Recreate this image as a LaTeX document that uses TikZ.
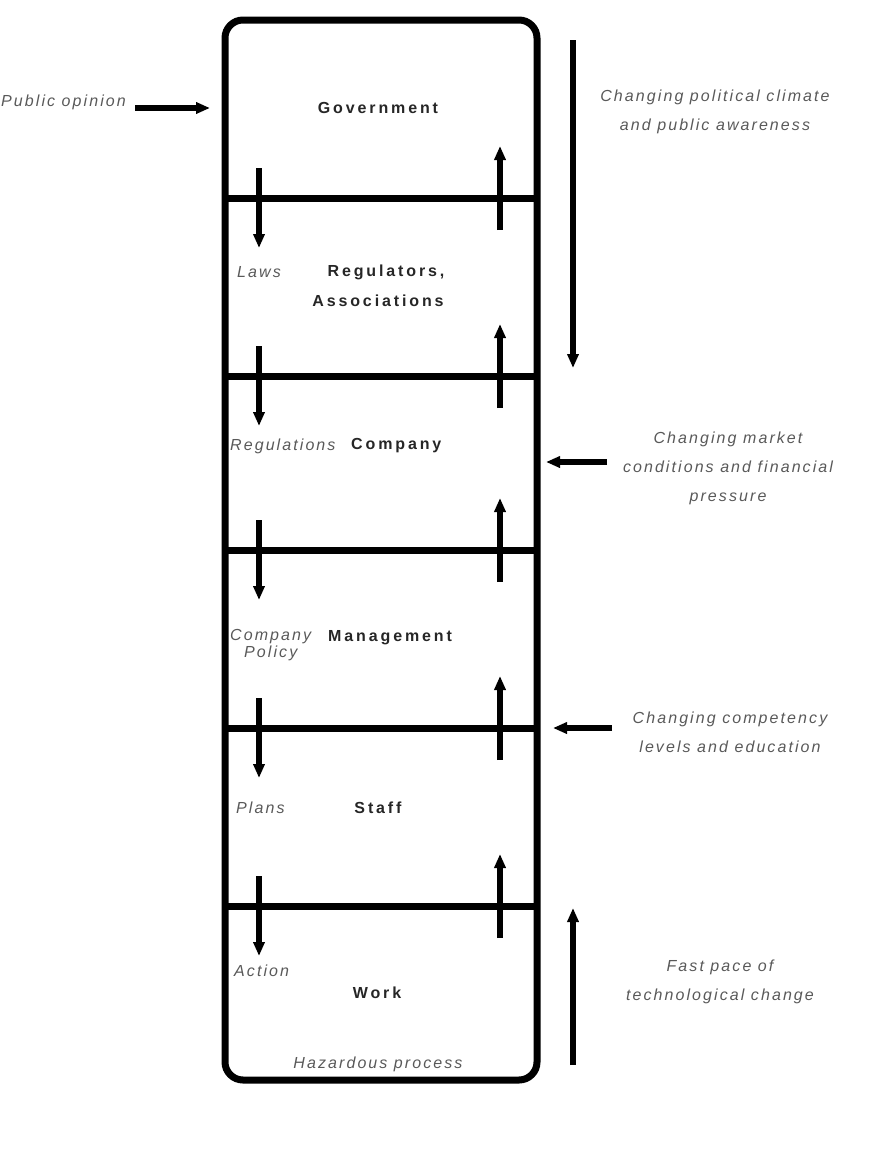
\documentclass[tikz,border=0pt]{standalone}
\usepackage{fontspec}
\setmainfont{Liberation Sans}
\newfontfamily\notefont{Liberation Sans}[LetterSpace=13]
\newfontfamily\lblfont{Liberation Sans}[LetterSpace=18]
\usetikzlibrary{arrows.meta}
\begin{document}
\begin{tikzpicture}[x=1pt,y=-1pt,
  frame/.style={line width=7pt},
  bar/.style={line width=7pt},
  arr/.style={line width=6pt,-{Triangle[length=14pt,width=11pt]}},
  lbl/.style={font=\lblfont\fontsize{16}{30}\selectfont\bfseries,align=center,text=black!85},
  note/.style={font=\notefont\fontsize{16}{29}\selectfont\itshape,align=center,text=black!65},
  ]
\useasboundingbox (0,0) rectangle (869,1167);
\draw[frame,rounded corners=18pt] (225,20) rectangle (537,1080);
\foreach \y/\n in {198/a,376/b,550/c,728/d,906/e}{
  \coordinate (l\n) at (225,\y); \coordinate (r\n) at (537,\y);
  \draw[bar] (l\n) -- (r\n);
  \coordinate (ds\n) at (259,\y-30); \coordinate (de\n) at (259,\y+50);
  \draw[arr] (ds\n) -- (de\n);
  \coordinate (us\n) at (500,\y+32); \coordinate (ue\n) at (500,\y-52);
  \draw[arr] (us\n) -- (ue\n);
}
\node[lbl] (gov) at (378,108) {Government};
\node[note,anchor=west,inner sep=0pt] (laws) at (237,272) {Laws};
\node[lbl] (reg) at (378,286) {\quad Regulators,\\Associations};
\node[note,anchor=west,inner sep=0pt] (regs) at (230,446) {Regulations};
\node[lbl,anchor=west,inner sep=0pt] (comp) at (351,446) {Company};
\node[note,anchor=west,inner sep=0pt] (cpol) at (230,637) {Company};
\node[note,anchor=west,inner sep=0pt] (pol) at (244,653) {Policy};
\node[lbl,anchor=west,inner sep=0pt] (man) at (328,638) {Management};
\node[note,anchor=west,inner sep=0pt] (plans) at (236,808) {Plans};
\node[lbl] (staff) at (378,808) {Staff};
\node[note,anchor=west,inner sep=0pt] (act) at (234,971) {Action};
\node[lbl] (work) at (377,993) {Work};
\node[note] (haz) at (378,1064) {Hazardous process};
\node[note,anchor=east,inner sep=0pt] (pub) at (126,102) {Public opinion};
\coordinate (pa) at (135,108); \coordinate (pb) at (210,108);
\draw[arr] (pa) -- (pb);
\node[note] (n1) at (715,112) {Changing political climate\\and public awareness};
\coordinate (a1) at (573,40); \coordinate (b1) at (573,368);
\draw[arr] (a1) -- (b1);
\node[note] (n2) at (728,468) {Changing market\\conditions and financial\\pressure};
\coordinate (a2) at (607,462); \coordinate (b2) at (546,462);
\draw[arr] (a2) -- (b2);
\node[note] (n3) at (730,732) {Changing competency\\levels and education};
\coordinate (a3) at (612,728); \coordinate (b3) at (553,728);
\draw[arr] (a3) -- (b3);
\node[note] (n4) at (720,982) {Fast pace of\\technological change};
\coordinate (a4) at (573,1065); \coordinate (b4) at (573,908);
\draw[arr] (a4) -- (b4);
\end{tikzpicture}
\end{document}
